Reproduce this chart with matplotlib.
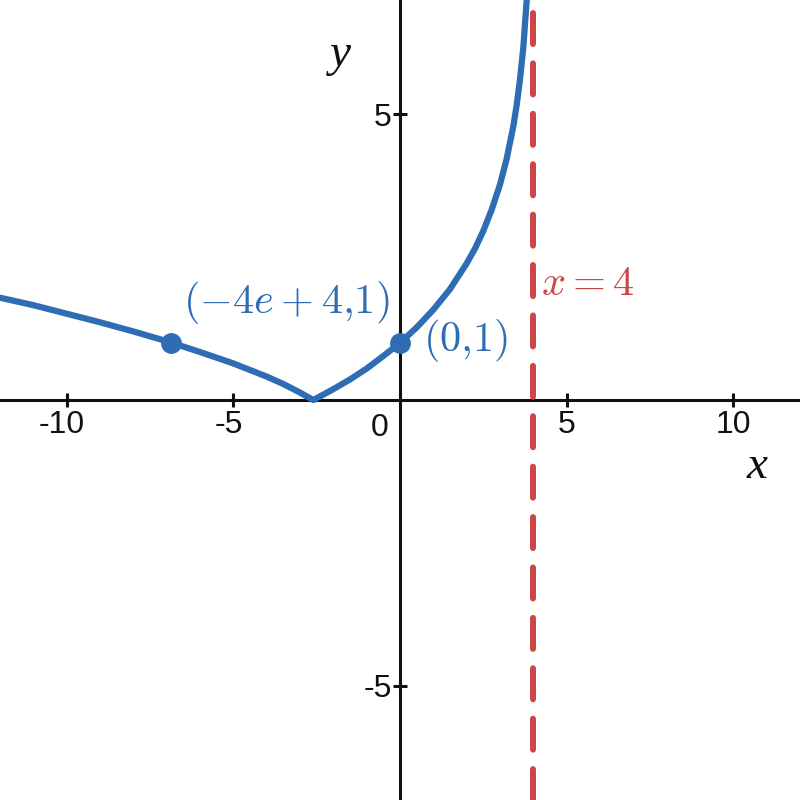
import numpy as np
import matplotlib
matplotlib.use("Agg")
import matplotlib.pyplot as plt
import matplotlib.transforms as mtransforms

plt.rcParams['mathtext.fontset'] = 'cm'

# Data (curve values)
x_range = [-12, 12]
y_range = [-7, 7]
asymptote_x = 4
curve_x = [-12, -11, -10, -9, -8, -7, -6, -5, -4, -3.5, -3, -2.6,
           -2, -1.5, -1, -0.5, 0, 0.5, 1, 1.5, 2, 2.25, 2.5, 2.75,
           3, 3.2, 3.4, 3.5, 3.6, 3.7, 3.8, 3.85]
curve_y = [1.79, 1.66, 1.51, 1.36, 1.20, 1.03, 0.84, 0.64, 0.41, 0.28, 0.13, 0.0,
           0.19, 0.36, 0.55, 0.77, 1.0, 1.27, 1.58, 1.94, 2.39, 2.65, 2.96, 3.33,
           3.77, 4.22, 4.79, 5.16, 5.61, 6.17, 6.99, 7.6]
xticks = [-10, -5, 5, 10]
xtick_labels = ["-10", "-5", "5", "10"]
yticks = [-5, 5]
ytick_labels = ["-5", "5"]
point_x = [4 - 4 * np.e, 0]
point_y = [1, 1]
point_labels = [r"$(-4e+4{,}1)$", r"$(0{,}1)$"]

BLUE = "#2e6db4"
RED = "#cd4545"

fig = plt.figure(figsize=(8, 8), dpi=100)
ax = fig.add_axes([0, 0, 1, 1])
ax.set_xlim(*x_range)
ax.set_ylim(*y_range)

ax.plot(curve_x, curve_y, color=BLUE, lw=4.5, solid_capstyle='round',
        solid_joinstyle='round', zorder=4)

ax.plot([asymptote_x, asymptote_x], [y_range[1], y_range[0]], color=RED,
        lw=4.3, linestyle=(6.26, (5.19, 3.25)), dash_capstyle='round',
        zorder=3)

ax.plot(point_x, point_y, 'o', color=BLUE, ms=14, zorder=5)

for s in ['top', 'right']:
    ax.spines[s].set_visible(False)
for s in ['left', 'bottom']:
    ax.spines[s].set_position(('data', 0))
    ax.spines[s].set_linewidth(2.2)
    ax.spines[s].set_color('#111111')
    ax.spines[s].set_zorder(2)

ax.set_xticks(xticks)
ax.set_xticklabels(xtick_labels)
ax.set_yticks(yticks)
ax.set_yticklabels(ytick_labels)
ax.tick_params(direction='inout', length=10, width=2.2, color='#111111',
               labelsize=23, labelcolor='#111111')
ax.tick_params(axis='x', pad=2)
ax.tick_params(axis='y', pad=1)
for lab in ax.get_xticklabels() + ax.get_yticklabels():
    lab.set_family('Liberation Sans')
shift = mtransforms.ScaledTranslation(-5 / 100, 0, fig.dpi_scale_trans)
for lab in ax.get_xticklabels():
    if lab.get_text().startswith('-'):
        lab.set_transform(lab.get_transform() + shift)

ax.annotate("0", xy=(0, 0), xytext=(-11, -13), textcoords='offset pixels',
            ha='right', va='top', fontsize=23, family='Liberation Sans',
            color='#111111')

ax.text(-1.8, 6.04, "y", fontsize=34, family='Liberation Serif',
        style='italic', ha='center', va='center', color='#111111')
ax.text(10.71, -1.16, "x", fontsize=34, family='Liberation Serif',
        style='italic', ha='center', va='center', color='#111111')

ax.text(-6.51, 1.70, point_labels[0], fontsize=30.5, color=BLUE,
        ha='left', va='center')
ax.text(0.69, 1.05, point_labels[1], fontsize=30.5, color=BLUE,
        ha='left', va='center')
ax.text(4.23, 2.05, r"$x=4$", fontsize=30.5, color=RED,
        ha='left', va='center')

fig.savefig("out.png", dpi=100)
